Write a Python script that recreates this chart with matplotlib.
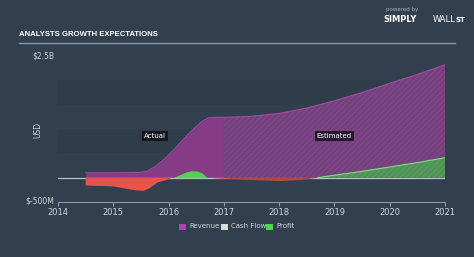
import numpy as np
import matplotlib.pyplot as plt

# revenue (USD billions)
rev_years = [2014.5, 2015.0, 2015.5, 2015.6, 2015.75, 2015.9, 2016.0, 2016.15, 2016.3,
             2016.45, 2016.6, 2016.72, 2016.85, 2017.0, 2017.5, 2018.0, 2018.5,
             2019.0, 2019.5, 2020.0, 2020.5, 2021.0]
revenue = [0.10, 0.10, 0.11, 0.13, 0.22, 0.36, 0.46, 0.64, 0.83, 1.00, 1.15, 1.23,
           1.24, 1.24, 1.26, 1.32, 1.43, 1.58, 1.75, 1.94, 2.12, 2.32]

# profit (USD billions)
pf_years = [2014.5, 2015.0, 2015.2, 2015.4, 2015.55, 2015.65, 2015.8, 2015.95, 2016.05,
            2016.2, 2016.3, 2016.4, 2016.5, 2016.6, 2016.7, 2017.0, 2017.5, 2018.0, 2018.4,
            2018.7, 2019.0, 2019.5, 2020.0, 2020.5, 2021.0]
profit = [-0.16, -0.18, -0.22, -0.26, -0.27, -0.22, -0.10, -0.05, -0.01, 0.06, 0.11,
          0.14, 0.14, 0.10, 0.00, -0.02, -0.05, -0.07, -0.05, 0.0, 0.05, 0.13, 0.22, 0.31, 0.41]

year_ticks = [2014, 2015, 2016, 2017, 2018, 2019, 2020, 2021]

BG = "#323f4e"
BAND = "#2f3c4a"
TXT = "#d0d6dd"
REV = "#853b85"
REV_EST = "#733f7c"
GREEN = "#4fd44f"
GREEN_EST = "#4f9157"
RED = "#e8534b"

fig = plt.figure(figsize=(4.74, 2.57), dpi=100, facecolor=BG)
ax = fig.add_axes([58 / 474, 1 - 202 / 257, 387 / 474, 146 / 257])
ax.set_facecolor(BG)

ax.set_xlim(2014, 2021)
ax.set_ylim(-0.5, 2.5)

for lo in [1.5, 0.5]:
    ax.axhspan(lo, lo + 0.5, color=BAND, lw=0, zorder=0)

ry = np.array(rev_years)
rv = np.array(revenue)
ax.fill_between(ry, 0, rv, where=ry <= 2017, color=REV, lw=0, zorder=2)
ax.fill_between(ry, 0, rv, where=ry >= 2017, facecolor=REV_EST, edgecolor="#7d4a86",
                hatch="//////", lw=0, zorder=2)
ax.plot(ry, rv, color="#a24ba3", lw=0.8, zorder=3)

py = np.array(pf_years)
pv = np.array(profit)
act = py <= 2017
est = py >= 2017
ax.fill_between(py, 0, pv, where=act & (pv >= 0), interpolate=True, color=GREEN, lw=0, zorder=4)
ax.fill_between(py, 0, pv, where=act & (pv <= 0), interpolate=True, color=RED, lw=0, zorder=4)
ax.fill_between(py, 0, pv, where=est & (pv >= 0), interpolate=True, facecolor=GREEN_EST,
                edgecolor="#5a9c60", hatch="//////", lw=0, zorder=4)
ax.fill_between(py, 0, pv, where=est & (pv <= 0), interpolate=True, facecolor="#b04a4a",
                lw=0, zorder=4)
pos = np.where(py >= 2018.7, pv, np.nan)
ax.plot(py, pos, color="#7fe07f", lw=0.8, zorder=5)

ax.axhline(0, color="#b8c2cc", lw=0.9, zorder=3)

for s in ["top", "right", "left"]:
    ax.spines[s].set_visible(False)
ax.spines["bottom"].set_color("#8d9aa8")
ax.spines["bottom"].set_linewidth(0.8)
ax.set_xticks(year_ticks)
ax.set_xticklabels([str(y) for y in year_ticks])
ax.tick_params(axis="x", colors="#8d9aa8", labelcolor=TXT, labelsize=6, length=3, pad=1)
ax.set_yticks([])

fig.text(54 / 474, 1 - 56 / 257, "$2.5B", color=TXT, fontsize=5.5, ha="right", va="center")
fig.text(54 / 474, 1 - 201 / 257, "$-500M", color=TXT, fontsize=5.5, ha="right", va="center")
fig.text(38 / 474, 1 - 130 / 257, "USD", color=TXT, fontsize=5.5, rotation=90,
         ha="center", va="center")

ax.text(2015.75, 0.85, "Actual", color="white", fontsize=5, ha="center", va="center",
        bbox=dict(boxstyle="square,pad=0.3", fc="#14181e", ec="none"), zorder=6)
ax.text(2019.0, 0.85, "Estimated", color="white", fontsize=5, ha="center", va="center",
        bbox=dict(boxstyle="square,pad=0.3", fc="#2a1530", ec="none"), zorder=6)

fig.text(19 / 474, 1 - 35 / 257, "ANALYSTS GROWTH EXPECTATIONS", color="white",
         fontsize=5.6, fontweight="bold", family="Liberation Sans", ha="left", va="center")
fig.add_artist(plt.Line2D([19 / 474, 455 / 474], [1 - 42.5 / 257] * 2, color="#8d9aa8", lw=1))

fig.text(402 / 474, 1 - 11 / 257, "powered by", color="#aab4bf", fontsize=4, ha="center")
fig.text(383 / 474, 1 - 20 / 257, "SIMPLY", color="white", fontsize=6, fontweight="bold",
         ha="left", va="center")
fig.text(433 / 474, 1 - 20 / 257, "WALL", color="white", fontsize=6, ha="left", va="center")
fig.text(455 / 474, 1 - 20 / 257, "ST", color="white", fontsize=5, fontweight="bold",
         ha="left", va="center")

# legend
items = [("Revenue", "#b23fb0", 179), ("Cash Flow", "#d8d8d8", 221), ("Profit", "#4fd44f", 266)]
for label, col, x in items:
    fig.patches.append(plt.Rectangle((x / 474, 1 - 229.5 / 257), 7 / 474, 6 / 257,
                                     transform=fig.transFigure, fc=col, ec="none"))
    fig.text((x + 10) / 474, 1 - 226.5 / 257, label, color=TXT, fontsize=5, ha="left", va="center")

fig.savefig("out.png", dpi=100, facecolor=BG)
